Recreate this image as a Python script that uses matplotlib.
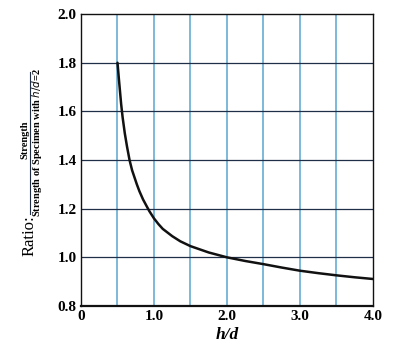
import numpy as np
import matplotlib.pyplot as plt

# values
hd = [0.5, 0.52, 0.55, 0.57, 0.6, 0.63, 0.665, 0.7, 0.765, 0.8, 0.85, 0.9,
      0.936, 1.0, 1.06, 1.12, 1.25, 1.36, 1.5, 1.75, 2.0, 2.25, 2.5, 2.75,
      3.0, 3.25, 3.5, 3.75, 4.0]
ratio = [1.80, 1.73, 1.63, 1.576, 1.51, 1.456, 1.40, 1.358, 1.30, 1.272,
         1.238, 1.21, 1.19, 1.16, 1.137, 1.117, 1.087, 1.066, 1.046, 1.02,
         1.0, 0.985, 0.972, 0.958, 0.945, 0.935, 0.926, 0.918, 0.911]

x_ticks = [0, 1, 2, 3, 4]
x_labels = ["0", "1.0", "2.0", "3.0", "4.0"]
y_ticks = [0.8, 1.0, 1.2, 1.4, 1.6, 1.8, 2.0]

plt.rcParams['font.family'] = ['Liberation Serif', 'DejaVu Serif']

fig = plt.figure(figsize=(4.06, 3.52), dpi=100)
ax = fig.add_axes([0.1995, 0.1307, 0.7192, 0.8293])

# grid: light blue verticals, dark horizontals
for xv in np.arange(0.5, 4.0, 0.5):
    ax.axvline(xv, color='#5aa6cf', lw=1.1, zorder=1)
for yv in y_ticks[1:-1]:
    ax.axhline(yv, color='#1f2f48', lw=0.9, zorder=1)

ax.plot(hd, ratio, color='#111111', lw=1.8, zorder=3,
        solid_joinstyle='round', solid_capstyle='round')

ax.set_xlim(0, 4.0)
ax.set_ylim(0.8, 2.0)
ax.set_xticks(x_ticks)
ax.set_xticklabels(x_labels)
ax.set_yticks(y_ticks)
ax.set_yticklabels([f"{v:.1f}" for v in y_ticks])
ax.tick_params(length=0, labelsize=11, pad=3)
for lab in ax.get_xticklabels() + ax.get_yticklabels():
    lab.set_fontweight('bold')

for s in ax.spines.values():
    s.set_color('#111111')
    s.set_linewidth(1.0)
ax.spines['bottom'].set_linewidth(1.6)

ax.set_xlabel("h/d", fontsize=12.5, fontstyle='italic', fontweight='bold', labelpad=3)

# y label: Ratio: Strength / Strength of Specimen with h/d=2
fig.text(30 / 406, 1 - 236 / 352, "Ratio:", rotation=90, fontsize=12,
         ha='center', va='center')
fig.add_artist(plt.Line2D([30.5 / 406, 30.5 / 406], [1 - 72 / 352, 1 - 214 / 352],
                          color='#1f2f48', lw=0.8))
fig.text(24.5 / 406, 1 - 140 / 352, "Strength", rotation=90, fontsize=7.5,
         fontweight='bold', ha='center', va='center')
fig.text(37.5 / 406, 1 - 142 / 352, "Strength of Specimen with $h/d$=2", rotation=90,
         fontsize=7.5, fontweight='bold', ha='center', va='center')

fig.savefig("out.png", dpi=100)
